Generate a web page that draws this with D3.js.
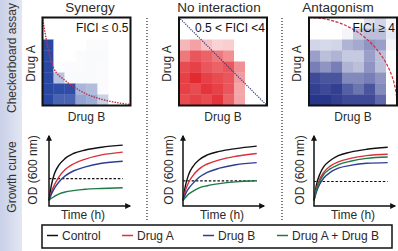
<!DOCTYPE html>
<html>
<head>
<meta charset="utf-8">
<script src="https://cdn.jsdelivr.net/npm/d3@7"></script>
<style>
  body { margin: 0; background: #fff; }
  svg { display: block; font-family: Arial, "Liberation Sans", sans-serif; }
</style>
</head>
<body>
<div id="chart"></div>
<script>
// ---- data ----
const panelTitles = ["Synergy", "No interaction", "Antagonism"];
const ficiLabels = ["FICI \u2264 0.5", "0.5 < FICI <4", "FICI \u2265 4"];
const rowLabels = ["Checkerboard assay", "Growth curve"];

// checkerboard intensities, rows top -> bottom, cols left -> right (0 = white)
const synergyGrid = [
  [0, 0, 0, 0, 0, 0, 0, 0],
  [0, 0, 0, 0, 0, 0, 0, 0],
  [1, 0, 0, 0, 0.02, 0.02, 0, 0],
  [1, 0, 0, 0.02, 0.03, 0.03, 0, 0],
  [1, 0.01, 0.02, 0.02, 0.03, 0.02, 0, 0],
  [1, 0.33, 0.03, 0.03, 0.03, 0.02, 0, 0],
  [1, 0.97, 0.97, 0.4, 0.36, 0.02, 0, 0],
  [1, 0.85, 0.85, 0.5, 0.45, 0.25, 0, 0]
];
const noInteractionGrid = [
  [0, 0, 0, 0, 0, 0, 0, 0],
  [0, 0, 0, 0, 0, 0, 0, 0],
  [0.32, 0.42, 0.28, 0.2, 0.22, 0, 0, 0],
  [0.6, 0.75, 0.7, 0.6, 0.5, 0, 0, 0],
  [0.8, 0.85, 0.75, 0.7, 0.75, 0.5, 0, 0],
  [0.85, 0.95, 0.85, 0.8, 0.75, 0.45, 0, 0],
  [0.85, 0.8, 0.9, 0.85, 0.75, 0.4, 0, 0],
  [0.8, 0.85, 0.8, 0.9, 0.7, 0.4, 0, 0]
];
const antagonismGrid = [
  [0, 0, 0, 0, 0, 0.15, 0.2, 0.05],
  [0, 0, 0, 0.05, 0.25, 0.3, 0.3, 0.1],
  [0.2, 0.18, 0.2, 0.35, 0.4, 0.5, 0.45, 0.05],
  [0.45, 0.3, 0.35, 0.25, 0.25, 0.45, 0.3, 0],
  [0.6, 0.5, 0.6, 0.35, 0.3, 0.5, 0.3, 0],
  [0.85, 0.8, 0.8, 0.55, 0.55, 0.6, 0.5, 0],
  [0.9, 0.85, 0.9, 0.75, 0.65, 0.8, 0.55, 0],
  [0.95, 0.95, 0.9, 0.85, 0.85, 0.85, 0.7, 0]
];
// synergy isobole (drug B fraction, drug A fraction)
const synergyIsobole = [[0, 1], [0.03, 0.82], [0.07, 0.62], [0.125, 0.43], [0.25, 0.29],
  [0.375, 0.2], [0.5, 0.13], [0.65, 0.077], [0.88, 0.027], [1, 0.01]];
const additiveLine = [[0, 1], [1, 0]];

// growth curves
const seriesNames = ["Control", "Drug A", "Drug B", "Drug A + Drug B"];
const timePoints = [0, 0.3, 0.7, 1.2, 2, 3, 4.5, 6.5, 9.1];
const synergyOD = [
  [0.08, 0.30, 0.47, 0.58, 0.68, 0.75, 0.80, 0.84, 0.87],
  [0.08, 0.20, 0.31, 0.41, 0.52, 0.60, 0.67, 0.73, 0.77],
  [0.08, 0.17, 0.26, 0.34, 0.43, 0.50, 0.56, 0.61, 0.64],
  [0.08, 0.11, 0.14, 0.17, 0.20, 0.22, 0.24, 0.25, 0.26]
];
const noInteractionOD = [
  [0.08, 0.29, 0.45, 0.56, 0.66, 0.73, 0.78, 0.82, 0.855],
  [0.08, 0.22, 0.34, 0.43, 0.53, 0.60, 0.66, 0.71, 0.75],
  [0.08, 0.17, 0.25, 0.32, 0.41, 0.48, 0.54, 0.59, 0.62],
  [0.08, 0.12, 0.17, 0.21, 0.26, 0.29, 0.32, 0.345, 0.36]
];
const antagonismOD = [
  [0.08, 0.30, 0.45, 0.56, 0.65, 0.72, 0.77, 0.81, 0.84],
  [0.08, 0.25, 0.38, 0.48, 0.57, 0.63, 0.68, 0.72, 0.74],
  [0.08, 0.20, 0.31, 0.40, 0.48, 0.54, 0.58, 0.61, 0.62],
  [0.08, 0.23, 0.35, 0.45, 0.53, 0.59, 0.64, 0.68, 0.70]
];
const odThreshold = [0.39, 0.36, 0.35];

// ---- layout ----
const width = 398, height = 251;
const boxLeft = [42.5, 179, 309];
const boxTop = 17.5, boxSize = 88;
const titleX = [90, 219, 338];
const axisLeft = [49, 183, 314];
const axisWidth = 81, axisBottom = 206, axisTop = 136;
const odLabelX = [33, 169, 300];
const timeLabelX = [83, 222, 353];
const seriesColors = ["#111111", "#d9303a", "#2e3d94", "#1f7a45"];
const gridColors = [["#ffffff", "#2848a4"], ["#ffffff", "#e21f26"], ["#ffffff", "#1c2a85"]];
const grids = [synergyGrid, noInteractionGrid, antagonismGrid];
const growth = [synergyOD, noInteractionOD, antagonismOD];
const textColor = "#2a2a2a";

const svg = d3.select("#chart").append("svg")
  .attr("width", width)
  .attr("height", height);

const defs = svg.append("defs");
const grad = defs.append("linearGradient").attr("id", "side")
  .attr("x1", 0).attr("x2", 1).attr("y1", 0).attr("y2", 0);
grad.append("stop").attr("offset", 0).attr("stop-color", "#c9d0e8");
grad.append("stop").attr("offset", 1).attr("stop-color", "#e3e7f3");

defs.append("marker")
  .attr("id", "arrow")
  .attr("viewBox", "0 0 10 10")
  .attr("refX", 8).attr("refY", 5)
  .attr("markerWidth", 7).attr("markerHeight", 6)
  .attr("markerUnits", "userSpaceOnUse")
  .attr("orient", "auto-start-reverse")
  .append("path").attr("d", "M0,0L10,5L0,10z").attr("fill", "#111");

// side strip
svg.append("rect").attr("x", 0).attr("y", 0).attr("width", 22).attr("height", height)
  .attr("fill", "url(#side)");
[58, 177].forEach((cy, i) => {
  svg.append("text")
    .attr("transform", `translate(12,${cy}) rotate(-90)`)
    .attr("text-anchor", "middle")
    .attr("dominant-baseline", "central")
    .attr("font-size", "12px")
    .attr("fill", "#333")
    .text(rowLabels[i]);
});

// dotted separators
[147, 282].forEach(x => {
  svg.append("line").attr("x1", x).attr("x2", x).attr("y1", 18).attr("y2", 220)
    .attr("stroke", "#222").attr("stroke-width", 1.2).attr("stroke-dasharray", "1,2");
});

grids.forEach((grid, p) => {
  const bx = boxLeft[p];
  const g = svg.append("g");

  g.append("text")
    .attr("x", titleX[p]).attr("y", 12)
    .attr("text-anchor", "middle")
    .attr("font-size", "13.5px")
    .attr("fill", textColor)
    .text(panelTitles[p]);

  const xb = d3.scaleBand().domain(d3.range(8)).range([bx, bx + boxSize]);
  const yb = d3.scaleBand().domain(d3.range(8)).range([boxTop, boxTop + boxSize]);
  const color = d3.scaleLinear().domain([0, 1]).range(gridColors[p]);

  const cells = grid.flatMap((row, r) => row.map((v, c) => ({r, c, v})));
  g.selectAll(".cell").data(cells).join("rect")
    .attr("x", d => xb(d.c)).attr("y", d => yb(d.r))
    .attr("width", xb.bandwidth() + 0.3).attr("height", yb.bandwidth() + 0.3)
    .attr("fill", d => color(d.v));

  const fx = d3.scaleLinear().domain([0, 1]).range([bx, bx + boxSize]);
  const fy = d3.scaleLinear().domain([0, 1]).range([boxTop + boxSize, boxTop]);

  if (p === 0) {
    g.append("path")
      .datum(synergyIsobole)
      .attr("d", d3.line().x(d => fx(d[0])).y(d => fy(d[1])).curve(d3.curveMonotoneX))
      .attr("fill", "none").attr("stroke", "#c0304a").attr("stroke-width", 1.6)
      .attr("stroke-linecap", "round").attr("stroke-dasharray", "0.1,2.6");
  } else if (p === 1) {
    g.append("path")
      .datum(additiveLine)
      .attr("d", d3.line().x(d => fx(d[0])).y(d => fy(d[1])))
      .attr("fill", "none").attr("stroke", "#2e3a80").attr("stroke-width", 1.3)
      .attr("stroke-linecap", "round").attr("stroke-dasharray", "0.1,2.3");
  } else {
    const arc = d3.path();
    arc.moveTo(fx(0), fy(1));
    arc.arc(fx(0), fy(0), fx(1) - fx(0), -Math.PI / 2, 0);
    g.append("path").attr("d", arc.toString())
      .attr("fill", "none").attr("stroke", "#d02a3c").attr("stroke-width", 1.2)
      .attr("stroke-dasharray", "3,1.5");
  }

  g.append("text")
    .attr("x", bx + boxSize - 2).attr("y", 32)
    .attr("text-anchor", "end")
    .attr("font-size", "12px")
    .attr("fill", "#111")
    .text(ficiLabels[p]);

  g.append("rect")
    .attr("x", bx).attr("y", boxTop).attr("width", boxSize).attr("height", boxSize)
    .attr("fill", "none").attr("stroke", "#111").attr("stroke-width", 2);

  g.append("text")
    .attr("x", bx + boxSize / 2).attr("y", 121)
    .attr("text-anchor", "middle").attr("font-size", "12px").attr("fill", textColor)
    .text("Drug B");
  g.append("text")
    .attr("transform", `translate(${bx - 12},${boxTop + boxSize / 2 + 2}) rotate(-90)`)
    .attr("text-anchor", "middle").attr("dominant-baseline", "central")
    .attr("font-size", "12px").attr("fill", textColor)
    .text("Drug A");

  // growth curve
  const x0 = axisLeft[p];
  const tx = d3.scaleLinear().domain([0, 10]).range([x0, x0 + axisWidth]);
  const oy = d3.scaleLinear().domain([0, 1]).range([axisBottom, axisTop]);

  g.append("line")
    .attr("x1", tx(0)).attr("x2", tx(timePoints[timePoints.length - 1]))
    .attr("y1", oy(odThreshold[p])).attr("y2", oy(odThreshold[p]))
    .attr("stroke", "#111").attr("stroke-width", 1.2).attr("stroke-dasharray", "2.5,1.8");

  const line = d3.line().x((d, i) => tx(timePoints[i])).y(d => oy(d)).curve(d3.curveMonotoneX);
  growth[p].forEach((vals, s) => {
    g.append("path").datum(vals).attr("d", line)
      .attr("fill", "none").attr("stroke", seriesColors[s]).attr("stroke-width", 1.4);
  });

  g.append("path")
    .attr("d", `M${tx(0)},${oy(1)}L${tx(0)},${oy(0)}L${tx(10)},${oy(0)}`)
    .attr("fill", "none").attr("stroke", "#111").attr("stroke-width", 1.5)
    .attr("marker-start", "url(#arrow)").attr("marker-end", "url(#arrow)");

  g.append("text")
    .attr("transform", `translate(${odLabelX[p]},170) rotate(-90)`)
    .attr("text-anchor", "middle").attr("dominant-baseline", "central")
    .attr("font-size", "12px").attr("fill", textColor)
    .text("OD (600 nm)");
  g.append("text")
    .attr("x", timeLabelX[p]).attr("y", 219)
    .attr("text-anchor", "middle").attr("font-size", "12px").attr("fill", textColor)
    .text("Time (h)");
});

// legend
const legendX = [47, 122, 203, 277];
const legend = svg.append("g");
legend.append("rect").attr("x", 42).attr("y", 225).attr("width", 350).attr("height", 23)
  .attr("fill", "#fff").attr("stroke", "#111").attr("stroke-width", 1.5);
seriesNames.forEach((name, i) => {
  legend.append("line").attr("x1", legendX[i]).attr("x2", legendX[i] + 11)
    .attr("y1", 235.5).attr("y2", 235.5)
    .attr("stroke", seriesColors[i]).attr("stroke-width", 1.5);
  legend.append("text").attr("x", legendX[i] + 15).attr("y", 240)
    .attr("font-size", "12px").attr("fill", textColor).text(name);
});
</script>
</body>
</html>
